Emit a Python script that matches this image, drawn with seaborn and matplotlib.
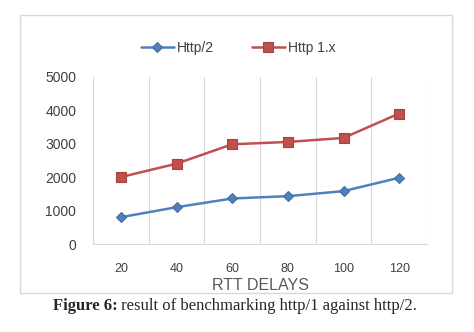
import matplotlib
matplotlib.use("Agg")
import matplotlib.pyplot as plt
import matplotlib.patches as mpatches
import seaborn as sns
import pandas as pd
import numpy as np

delays = ["20", "40", "60", "80", "100", "120"]
http2 = [800, 1100, 1360, 1430, 1580, 1980]
http1x = [2000, 2400, 2980, 3050, 3170, 3900]
series_names = ["Http/2", "Http 1.x"]
y_ticks = [0, 1000, 2000, 3000, 4000, 5000]

df = pd.DataFrame({
    "pos": list(range(len(delays))) * 2,
    "delay": delays * 2,
    "value": http2 + http1x,
    "series": [series_names[0]] * len(delays) + [series_names[1]] * len(delays),
})

sns.set_theme(style="white")
plt.rcParams["font.family"] = ["Liberation Sans", "DejaVu Sans"]

fig = plt.figure(figsize=(4.74, 3.32), dpi=100)
ax = fig.add_axes([93/474, 1-244/332, (427-93)/474, (244-76.7)/332])

palette = {"Http/2": "#4F81BD", "Http 1.x": "#C0504D"}
sns.lineplot(data=df, x="pos", y="value", hue="series", style="series",
             markers={"Http/2": "D", "Http 1.x": "s"}, dashes=False,
             palette=palette, linewidth=1.8, markersize=7, markeredgewidth=0.8,
             ax=ax, legend=True)
for line in ax.get_lines():
    if line.get_marker() == "s":
        line.set_markersize(7.5)
        line.set_markeredgecolor("#A8403D")
    elif line.get_marker() == "D":
        line.set_markersize(5.5)
        line.set_markeredgecolor("#41709F")

n = len(delays)
ax.set_xlim(-0.5, n - 0.5)
ax.set_ylim(0, 5000)
ax.set_xticks(range(n))
ax.set_xticklabels(delays)
ax.set_yticks(y_ticks)
ax.set_yticklabels([str(v) for v in y_ticks])
ax.set_xticks(np.arange(-0.5, n, 1.0), minor=True)
ax.grid(False)
ax.grid(True, which="minor", axis="x", color="#D9D9D9", linewidth=0.8)
ax.tick_params(axis="x", which="both", length=0, pad=14, labelsize=9, labelcolor="#404040")
ax.tick_params(axis="y", length=0, pad=12, labelsize=10, labelcolor="#404040")
for s in ["top", "right", "left"]:
    ax.spines[s].set_visible(False)
ax.spines["bottom"].set_color("#D9D9D9")
ax.spines["bottom"].set_linewidth(0.8)
ax.set_ylabel("")
ax.set_xlabel("RTT DELAYS", fontsize=11.5, color="#595959", labelpad=2)

handles, labels = ax.get_legend_handles_labels()
ax.legend(handles, labels, loc="center", bbox_to_anchor=(238/474, 1-48/332),
          bbox_transform=fig.transFigure, ncol=2, frameon=False,
          fontsize=10, handlelength=2.4, columnspacing=2.7, handletextpad=0.2,
          labelcolor="#404040")

fig.patches.append(mpatches.Rectangle((20/474, 1-293/332), 432/474, 278/332,
                                      transform=fig.transFigure, fill=False,
                                      edgecolor="#D9D9D9", linewidth=1.0))

fig.canvas.draw()
r = fig.canvas.get_renderer()
cy = 1 - 306/332
t1 = fig.text(0, cy, "Figure 6:", fontsize=12, fontweight="bold",
              family=["Liberation Serif"], va="center", ha="left")
t2 = fig.text(0, cy, " result of benchmarking http/1 against http/2.", fontsize=12,
              family=["Liberation Serif"], va="center", ha="left")
w1 = t1.get_window_extent(r).width / fig.bbox.width
w2 = t2.get_window_extent(r).width / fig.bbox.width
x0 = 235/474 - (w1 + w2) / 2
t1.set_x(x0)
t2.set_x(x0 + w1)

fig.savefig("out.png", dpi=100)
